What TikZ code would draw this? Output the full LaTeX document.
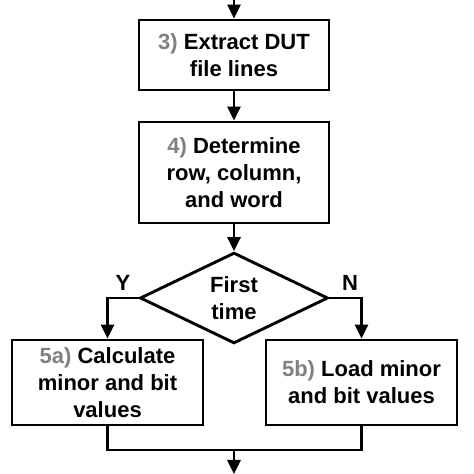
\documentclass[tikz,border=0pt]{standalone}
\usepackage{fontspec}
\setmainfont{Liberation Sans}
\usepackage{tikz}
\usetikzlibrary{arrows.meta, shapes.geometric}

\definecolor{stepgray}{RGB}{128,128,128}
\newcommand{\stepnum}[1]{\textcolor{stepgray}{#1}}

\begin{document}
\begin{tikzpicture}[x=1pt, y=1pt, line width=2.9pt,
	font=\fontsize{22}{27}\selectfont\bfseries,
	stepbox/.style={draw, rectangle, align=center, inner sep=0pt},
	decision/.style={draw, diamond, align=center, inner sep=0pt, minimum width=188pt, minimum height=85pt},
	flow/.style={-{Triangle[length=14pt, width=13pt]}}]
	\def\W{190}
	\def\Wb{191}

	\useasboundingbox (0,0) rectangle (474,474);

	\node[stepbox, minimum width=\W pt, minimum height=70pt] (extract) at (234,419) {\stepnum{3)} Extract DUT\\file lines};
	\node[stepbox, minimum width=\W pt, minimum height=101pt] (determine) at (234,301.5) {\stepnum{4)} Determine\\row, column,\\and word};
	\node[decision] (first) at (234,176) {First\\time};
	\node[stepbox, minimum width=\Wb pt, minimum height=85pt] (calc) at (107.5,91.5) {\stepnum{5a)} Calculate\\minor and bit\\values};
	\node[stepbox, minimum width=\Wb pt, minimum height=85pt] (load) at (361.5,91.5) {\stepnum{5b)} Load minor\\and bit values};

	\node (yes) at (123,191) {Y};
	\node (no) at (350,191) {N};

	\coordinate (start) at (234,474);
	\coordinate (join) at (234,24);
	\coordinate (end) at (234,0);

	\draw[flow]	(start) -- (extract);
	\draw[flow]	(extract) -- (determine);
	\draw[flow]	(determine) -- (first);
	\draw[flow]	(first.west) -| (calc.north);
	\draw[flow]	(first.east) -| (load.north);
	\draw		(calc.south) |- (join) -| (load.south);
	\draw[flow]	(join) -- (end);
\end{tikzpicture}
\end{document}
